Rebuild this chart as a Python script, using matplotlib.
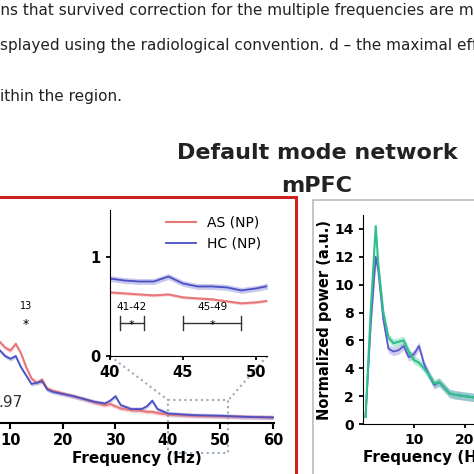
import matplotlib
matplotlib.use("Agg")
import matplotlib.pyplot as plt
from matplotlib.patches import Rectangle
import numpy as np

W = H = 474
fig = plt.figure(figsize=(4.74, 4.74), dpi=100)

def ax_px(l, t, r, b):
    return fig.add_axes([l / W, 1 - b / H, (r - l) / W, (b - t) / H])

# Left panel main data (freq Hz)
freq_main = [8, 9, 10, 11, 12, 13, 14, 15, 16, 17, 18, 20, 22, 24, 26, 28, 29, 30, 31, 33, 35, 36, 37, 38, 40, 45, 50, 55, 60]
as_main = [14.5, 13.5, 13.0, 14.2, 12.5, 10.0, 8.0, 7.2, 7.8, 6.2, 5.8, 5.3, 4.8, 4.3, 3.7, 3.2, 3.4, 3.0, 2.6, 2.3, 2.2, 2.0, 2.0, 1.8, 1.5, 1.3, 1.2, 1.1, 1.0]
hc_main = [13.0, 12.0, 11.5, 12.0, 10.0, 8.5, 7.0, 7.2, 7.5, 6.0, 5.6, 5.2, 4.8, 4.3, 3.8, 3.5, 4.0, 4.8, 3.2, 2.5, 2.5, 3.0, 4.0, 2.5, 1.7, 1.4, 1.3, 1.1, 1.0]

# Inset data
freq_in = [40, 41, 42, 43, 44, 45, 46, 47, 48, 49, 50, 51]
as_in = [0.64, 0.63, 0.62, 0.61, 0.62, 0.59, 0.58, 0.57, 0.55, 0.53, 0.54, 0.56]
hc_in = [0.78, 0.76, 0.75, 0.75, 0.80, 0.73, 0.70, 0.70, 0.69, 0.66, 0.68, 0.71]

# Right panel data
freq_r = [0.5, 1.5, 2.5, 3, 4, 5, 6, 7, 8, 9, 10, 11, 12, 13, 14, 15, 16, 17, 18, 20, 22]
grp1_r = [0.5, 8, 14.2, 11.5, 8.0, 6.2, 5.8, 5.9, 6.0, 5.2, 4.6, 4.4, 4.0, 3.5, 2.9, 3.0, 2.6, 2.2, 2.1, 2.0, 1.9]
grp2_r = [0.5, 7, 12.0, 11.0, 7.5, 5.4, 5.2, 5.3, 5.6, 4.8, 5.0, 5.6, 4.3, 3.5, 2.8, 3.0, 2.6, 2.2, 2.1, 2.0, 1.9]

red = "#e8777a"
blue = "#4a4fc4"
green = "#2ec08a"
blue2 = "#5a5ad0"

# Top paragraph text
fig.text(-0.02, 1 - 10 / H, "ons that survived correction for the multiple frequencies are m", fontsize=11, va="center", color="#222222")
fig.text(0.0, 1 - 45 / H, "splayed using the radiological convention. d \u2013 the maximal effe", fontsize=11, va="center", color="#222222")
fig.text(0.0, 1 - 97 / H, "ithin the region.", fontsize=11, va="center", color="#222222")

fig.text(317 / W, 1 - 153 / H, "Default mode network", fontsize=16, fontweight="bold", ha="center", va="center", color="#222222")
fig.text(317 / W, 1 - 186 / H, "mPFC", fontsize=16, fontweight="bold", ha="center", va="center", color="#222222")

# frames
fig.patches.append(Rectangle((-5 / W, -0.05), 301 / W, 1 - 197 / H + 0.05, transform=fig.transFigure,
                             fill=False, edgecolor="#cc2222", linewidth=2.2))
fig.patches.append(Rectangle((313 / W, -0.05), 0.5, 1 - 200 / H + 0.05, transform=fig.transFigure,
                             fill=False, edgecolor="#bbbbbb", linewidth=1.2))

# Left main axes
ax = ax_px(0, 200, 274, 423)
ax.plot(freq_main, as_main, color=red, lw=1.5)
ax.fill_between(freq_main, np.array(as_main) - 0.4, np.array(as_main) + 0.4, color=red, alpha=0.3, lw=0)
ax.plot(freq_main, hc_main, color=blue, lw=1.3)
ax.fill_between(freq_main, np.array(hc_main) - 0.4, np.array(hc_main) + 0.4, color=blue, alpha=0.25, lw=0)
ax.set_xlim(8, 60.2)
ax.set_ylim(0, 40)
ax.set_xticks([10, 20, 30, 40, 50, 60])
ax.tick_params(axis="x", labelsize=10.5, width=1.5, length=4)
for lab in ax.get_xticklabels():
    lab.set_fontweight("bold")
ax.set_yticks([])
for s in ["top", "right", "left"]:
    ax.spines[s].set_visible(False)
ax.spines["bottom"].set_linewidth(1.5)
ax.set_xlabel("Frequency (Hz)", fontsize=11, fontweight="bold", labelpad=2)
ax.patch.set_alpha(0)
ax.text(13, 20.5, "13", fontsize=7, ha="center")
ax.text(13, 17.0, "*", fontsize=9, ha="center")
ax.text(7.6, 2.8, ".97", fontsize=11, color="#333333")
dot = dict(ls=":", color="#99aabb", lw=1.5, clip_on=False)
ax.add_patch(Rectangle((40, -5.4), 11.5, 9.5, fill=False, linestyle=":", edgecolor="#99aabb", lw=1.5, clip_on=False))
ax.plot([29.0, 40], [12, 4.1], **dot)
ax.plot([58.9, 51.5], [12, 4.1], **dot)

# Inset
ai = ax_px(110, 210, 267, 356)
ai.plot(freq_in, as_in, color=red, lw=1.5, label="AS (NP)")
ai.fill_between(freq_in, np.array(as_in) - 0.015, np.array(as_in) + 0.015, color=red, alpha=0.3, lw=0)
ai.plot(freq_in, hc_in, color=blue, lw=1.3, label="HC (NP)")
ai.fill_between(freq_in, np.array(hc_in) - 0.03, np.array(hc_in) + 0.03, color=blue, alpha=0.3, lw=0)
ai.set_xlim(40, 50.75)
ai.set_ylim(0, 1.47)
ai.set_xticks([40, 45, 50])
ai.set_yticks([0, 1])
ai.tick_params(labelsize=10.5, width=1.3, length=3)
for lab in ai.get_xticklabels() + ai.get_yticklabels():
    lab.set_fontweight("bold")
for s in ["top", "right"]:
    ai.spines[s].set_visible(False)
ai.patch.set_alpha(0)
ai.legend(loc="upper right", frameon=False, fontsize=10, handlelength=2.2, borderaxespad=0.0)
for (a, b, lab) in [(40.7, 42.3, "41-42"), (45, 49, "45-49")]:
    ai.plot([a, b], [0.33, 0.33], color="#333333", lw=1)
    ai.plot([a, a], [0.26, 0.40], color="#333333", lw=1)
    ai.plot([b, b], [0.26, 0.40], color="#333333", lw=1)
    ai.text((a + b) / 2, 0.46, lab, fontsize=7.5, ha="center")
    ai.text((a + b) / 2, 0.31, "*", fontsize=8, ha="center", va="center")

# Right panel
ar = ax_px(363, 215, 480, 424)
ar.fill_between(freq_r, np.array(grp2_r) - 0.3, np.array(grp2_r) + 0.3, color=blue2, alpha=0.3, lw=0)
ar.plot(freq_r, grp2_r, color=blue2, lw=1.3)
ar.fill_between(freq_r, np.array(grp1_r) - 0.3, np.array(grp1_r) + 0.3, color=green, alpha=0.35, lw=0)
ar.plot(freq_r, grp1_r, color=green, lw=1.5)
ar.set_xlim(0, 23)
ar.set_ylim(0, 15)
ar.set_yticks(range(0, 15, 2))
ar.set_xticks([10, 20])
ar.tick_params(labelsize=10, width=1.3, length=3)
for lab in ar.get_xticklabels() + ar.get_yticklabels():
    lab.set_fontweight("bold")
for s in ["top", "right"]:
    ar.spines[s].set_visible(False)
ar.set_ylabel("Normalized power (a.u.)", fontsize=10.5, fontweight="bold", labelpad=2)
ar.set_xlabel("Frequency (Hz)", fontsize=11, fontweight="bold", labelpad=2, loc="left")
ar.patch.set_alpha(0)

fig.savefig("out.png", dpi=100)
